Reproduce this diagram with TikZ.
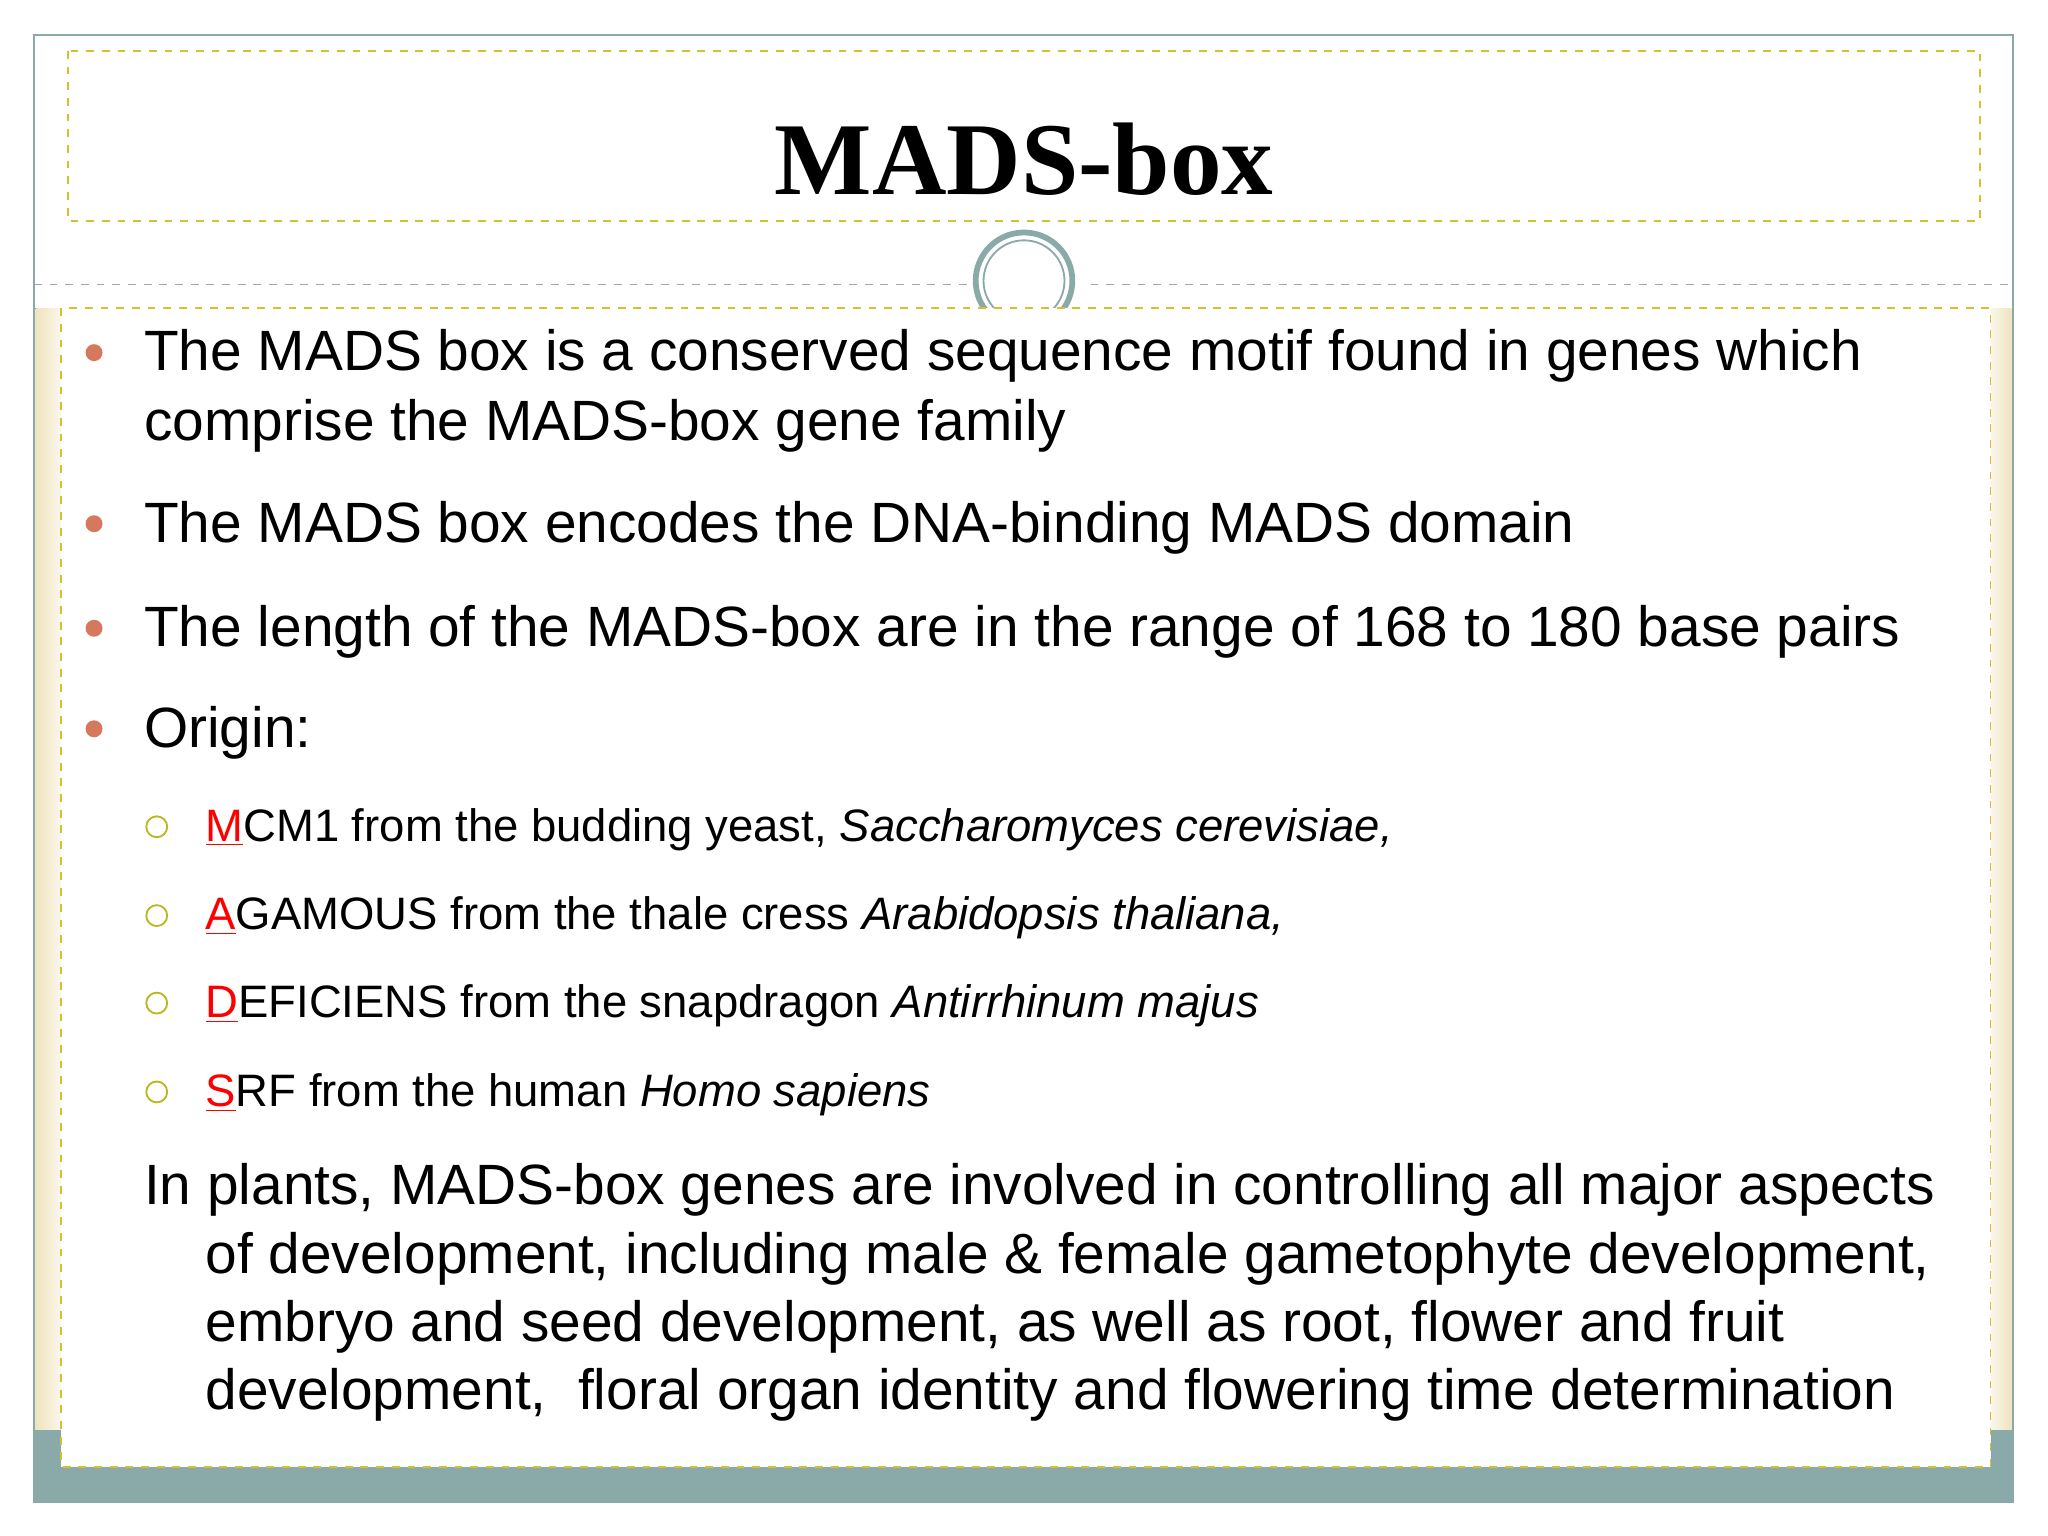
\documentclass[tikz,border=0pt]{standalone}
\usepackage{fontspec}
\setmainfont{Liberation Sans}
\newfontfamily\titlefont{Liberation Serif}
\definecolor{frame}{HTML}{8AA9A9}
\definecolor{dashc}{HTML}{D4C030}
\definecolor{bul}{HTML}{D6785E}
\definecolor{subc}{HTML}{B8B820}
\definecolor{beige}{HTML}{EFE3BE}
\tikzset{
 body/.style={anchor=base west,font=\fontsize{21.75}{26}\selectfont,inner sep=0pt},
 subt/.style={anchor=base west,font=\fontsize{17.4}{20}\selectfont,inner sep=0pt},
 bdot/.style={circle,fill=bul,inner sep=0pt,minimum size=6.5pt},
 sdot/.style={circle,draw=subc,line width=0.7pt,inner sep=0pt,minimum size=8pt},
}
\newcommand{\redu}[1]{\textcolor{red}{\underline{#1}}}
\begin{document}
\begin{tikzpicture}[x=0.5pt,y=-0.5pt]
\useasboundingbox (0,0) rectangle (1568,1176);
\fill[white] (0,0) rectangle (1568,1176);
\fill[left color=beige,right color=beige!30] (27,236) rectangle (47,1095);
\fill[right color=beige,left color=beige!30] (1524,236) rectangle (1540,1095);
\fill[frame] (26,1095) rectangle (1541,1150);
\draw[frame,line width=0.8pt] (26,27) rectangle (1541,1150);
\draw[dashc,dashed,line width=0.7pt] (52,39) rectangle (1516,169);
\node[font=\titlefont\bfseries\fontsize{39.5}{44}\selectfont] (title) at (784,122) {MADS-box};
\draw[gray!70,dashed,line width=0.5pt] (26,218) -- (740,218);
\draw[gray!70,dashed,line width=0.5pt] (835,218) -- (1541,218);
\fill[white] (784,215) circle (38);
\draw[frame,line width=2.2pt] (784,215) circle (37);
\draw[frame,line width=0.7pt] (784,215) circle (31);
\fill[white] (47,236) rectangle (1524,1123);
\draw[dashc,dashed,line width=0.7pt] (47,236) rectangle (1524,1123);
\foreach \y/\n in {270/b1,401/b2,481/b3,558/b4}{\node[bdot] (\n) at (72,\y) {};}
\node[body] (t1a) at (110,284) {The MADS box is a conserved sequence motif found in genes which};
\node[body] (t1b) at (110,337) {comprise the MADS-box gene family};
\node[body] (t2) at (110,415) {The MADS box encodes the DNA-binding MADS domain};
\node[body] (t3) at (110,495) {The length of the MADS-box are in the range of 168 to 180 base pairs};
\node[body] (t4) at (110,572) {Origin:};
\foreach \y/\n in {633/s1,701/s2,768/s3,836/s4}{\node[sdot] (\n) at (120,\y) {};}
\node[subt] (u1) at (157,644) {\redu{M}CM1 from the budding yeast, \textit{Saccharomyces cerevisiae,}};
\node[subt] (u2) at (157,712) {\redu{A}GAMOUS from the thale cress \textit{Arabidopsis thaliana,}};
\node[subt] (u3) at (157,779) {\redu{D}EFICIENS from the snapdragon \textit{Antirrhinum majus}};
\node[subt] (u4) at (157,847) {\redu{S}RF from the human \textit{Homo sapiens}};
\node[body] (p1) at (110,922) {In plants, MADS-box genes are involved in controlling all major aspects};
\node[body] (p2) at (157,975) {of development, including male \& female gametophyte development,};
\node[body] (p3) at (157,1027) {embryo and seed development, as well as root, flower and fruit};
\node[body] (p4) at (157,1079) {development,\ \ floral organ identity and flowering time determination};
\end{tikzpicture}
\end{document}
